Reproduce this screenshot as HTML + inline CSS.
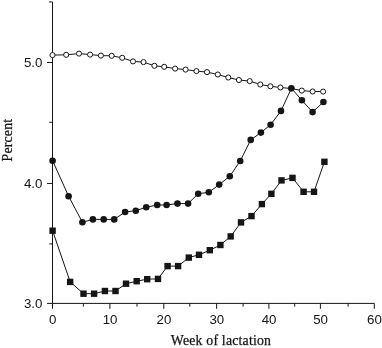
<!DOCTYPE html><html><head><meta charset="utf-8"><title>Chart</title><style>html,body{margin:0;padding:0;background:#fff}svg{display:block}text{fill:#151515}.s{font-family:"Liberation Sans",Arial,sans-serif;font-size:13.3px}.t{font-family:"Liberation Serif","Times New Roman",serif;font-size:13.8px;letter-spacing:0.2px;stroke:#151515;stroke-width:0.25px}</style></head><body>
<svg width="382" height="348" viewBox="0 0 382 348">
<rect width="382" height="348" fill="#fff"/>
<g stroke="#151515" stroke-width="1" fill="none">
<path d="M49.1,1.95 H52.5 V303.4 H374.3 "/>
<path d="M52.5,303.4 v5.4"/>
<path d="M109.9,303.4 v5.4"/>
<path d="M163.8,303.4 v5.4"/>
<path d="M216.6,303.4 v5.4"/>
<path d="M268.9,303.4 v5.4"/>
<path d="M320.4,303.4 v5.4"/>
<path d="M374.3,303.4 v5.4"/>
<path d="M83.4,303.4 v3.2"/>
<path d="M137.0,303.4 v3.2"/>
<path d="M189.8,303.4 v3.2"/>
<path d="M243.1,303.4 v3.2"/>
<path d="M294.7,303.4 v3.2"/>
<path d="M348.1,303.4 v3.2"/>
<path d="M52.5,62.5 h-5.5"/>
<path d="M52.5,183.45 h-5.5"/>
<path d="M52.5,303.4 h-5.5"/>
<path d="M52.5,122.3 h-3.2"/>
<path d="M52.5,243.9 h-3.2"/>
<polyline points="52.5,55.1 66.2,54.8 79.0,53.6 90.1,54.6 100.9,55.6 111.7,55.8 122.2,57.8 133.0,61.4 143.5,62.1 154.4,65.8 164.2,66.8 175.1,68.6 185.6,69.6 196.4,71.1 207.0,72.1 217.8,74.5 228.3,77.5 238.9,80.0 249.7,81.1 260.3,84.5 270.4,86.3 280.4,87.5 291.2,88.5 301.8,90.6 312.6,91.5 323.1,91.6"/>
<polyline points="52.6,160.7 68.6,196.2 82.4,222.3 92.9,219.4 103.7,219.4 114.2,219.4 125.1,212.0 135.8,210.7 146.2,207.2 157.2,205.0 166.6,205.0 177.5,203.6 188.1,203.6 198.2,193.7 208.8,192.3 219.2,184.6 229.8,176.2 240.2,161.0 250.7,139.9 260.9,132.6 270.6,124.7 281.0,110.9 291.4,88.3 301.9,100.3 312.6,112.1 323.4,102.0"/>
<polyline points="52.6,230.7 70.2,281.9 83.5,293.7 94.1,293.7 104.9,291.0 115.5,291.0 126.0,283.7 136.7,281.2 147.2,279.2 158.0,278.9 167.6,266.1 178.1,266.1 188.8,257.6 199.0,254.8 209.8,250.2 220.4,245.0 230.7,236.4 241.0,222.4 251.5,216.1 261.9,204.1 271.4,193.8 281.5,180.4 292.5,177.9 303.6,191.8 314.0,191.8 324.4,161.8"/>
</g>
<g fill="#fff" stroke="#151515" stroke-width="1">
<circle cx="52.5" cy="55.1" r="2.55"/>
<circle cx="66.2" cy="54.8" r="2.55"/>
<circle cx="79.0" cy="53.6" r="2.55"/>
<circle cx="90.1" cy="54.6" r="2.55"/>
<circle cx="100.9" cy="55.6" r="2.55"/>
<circle cx="111.7" cy="55.8" r="2.55"/>
<circle cx="122.2" cy="57.8" r="2.55"/>
<circle cx="133.0" cy="61.4" r="2.55"/>
<circle cx="143.5" cy="62.1" r="2.55"/>
<circle cx="154.4" cy="65.8" r="2.55"/>
<circle cx="164.2" cy="66.8" r="2.55"/>
<circle cx="175.1" cy="68.6" r="2.55"/>
<circle cx="185.6" cy="69.6" r="2.55"/>
<circle cx="196.4" cy="71.1" r="2.55"/>
<circle cx="207.0" cy="72.1" r="2.55"/>
<circle cx="217.8" cy="74.5" r="2.55"/>
<circle cx="228.3" cy="77.5" r="2.55"/>
<circle cx="238.9" cy="80.0" r="2.55"/>
<circle cx="249.7" cy="81.1" r="2.55"/>
<circle cx="260.3" cy="84.5" r="2.55"/>
<circle cx="270.4" cy="86.3" r="2.55"/>
<circle cx="280.4" cy="87.5" r="2.55"/>
<circle cx="291.2" cy="88.5" r="2.55"/>
<circle cx="301.8" cy="90.6" r="2.55"/>
<circle cx="312.6" cy="91.5" r="2.55"/>
<circle cx="323.1" cy="91.6" r="2.55"/>
</g>
<g fill="#151515">
<circle cx="52.6" cy="160.7" r="3.3"/>
<circle cx="68.6" cy="196.2" r="3.3"/>
<circle cx="82.4" cy="222.3" r="3.3"/>
<circle cx="92.9" cy="219.4" r="3.3"/>
<circle cx="103.7" cy="219.4" r="3.3"/>
<circle cx="114.2" cy="219.4" r="3.3"/>
<circle cx="125.1" cy="212.0" r="3.3"/>
<circle cx="135.8" cy="210.7" r="3.3"/>
<circle cx="146.2" cy="207.2" r="3.3"/>
<circle cx="157.2" cy="205.0" r="3.3"/>
<circle cx="166.6" cy="205.0" r="3.3"/>
<circle cx="177.5" cy="203.6" r="3.3"/>
<circle cx="188.1" cy="203.6" r="3.3"/>
<circle cx="198.2" cy="193.7" r="3.3"/>
<circle cx="208.8" cy="192.3" r="3.3"/>
<circle cx="219.2" cy="184.6" r="3.3"/>
<circle cx="229.8" cy="176.2" r="3.3"/>
<circle cx="240.2" cy="161.0" r="3.3"/>
<circle cx="250.7" cy="139.9" r="3.3"/>
<circle cx="260.9" cy="132.6" r="3.3"/>
<circle cx="270.6" cy="124.7" r="3.3"/>
<circle cx="281.0" cy="110.9" r="3.3"/>
<circle cx="291.4" cy="88.3" r="3.3"/>
<circle cx="301.9" cy="100.3" r="3.3"/>
<circle cx="312.6" cy="112.1" r="3.3"/>
<circle cx="323.4" cy="102.0" r="3.3"/>
<rect x="49.40" y="227.50" width="6.4" height="6.4"/>
<rect x="67.00" y="278.70" width="6.4" height="6.4"/>
<rect x="80.30" y="290.50" width="6.4" height="6.4"/>
<rect x="90.90" y="290.50" width="6.4" height="6.4"/>
<rect x="101.70" y="287.80" width="6.4" height="6.4"/>
<rect x="112.30" y="287.80" width="6.4" height="6.4"/>
<rect x="122.80" y="280.50" width="6.4" height="6.4"/>
<rect x="133.50" y="278.00" width="6.4" height="6.4"/>
<rect x="144.00" y="276.00" width="6.4" height="6.4"/>
<rect x="154.80" y="275.70" width="6.4" height="6.4"/>
<rect x="164.40" y="262.90" width="6.4" height="6.4"/>
<rect x="174.90" y="262.90" width="6.4" height="6.4"/>
<rect x="185.60" y="254.40" width="6.4" height="6.4"/>
<rect x="195.80" y="251.60" width="6.4" height="6.4"/>
<rect x="206.60" y="247.00" width="6.4" height="6.4"/>
<rect x="217.20" y="241.80" width="6.4" height="6.4"/>
<rect x="227.50" y="233.20" width="6.4" height="6.4"/>
<rect x="237.80" y="219.20" width="6.4" height="6.4"/>
<rect x="248.30" y="212.90" width="6.4" height="6.4"/>
<rect x="258.70" y="200.90" width="6.4" height="6.4"/>
<rect x="268.20" y="190.60" width="6.4" height="6.4"/>
<rect x="278.30" y="177.20" width="6.4" height="6.4"/>
<rect x="289.30" y="174.70" width="6.4" height="6.4"/>
<rect x="300.40" y="188.60" width="6.4" height="6.4"/>
<rect x="310.80" y="188.60" width="6.4" height="6.4"/>
<rect x="321.20" y="158.60" width="6.4" height="6.4"/>
</g>
<text class="s" x="52.7" y="323.6" text-anchor="middle">0</text>
<text class="s" x="110.1" y="323.6" text-anchor="middle">10</text>
<text class="s" x="164.0" y="323.6" text-anchor="middle">20</text>
<text class="s" x="216.8" y="323.6" text-anchor="middle">30</text>
<text class="s" x="269.1" y="323.6" text-anchor="middle">40</text>
<text class="s" x="320.6" y="323.6" text-anchor="middle">50</text>
<text class="s" x="374.5" y="323.6" text-anchor="middle">60</text>
<text class="s" x="42.4" y="67.2" text-anchor="end">5.0</text>
<text class="s" x="42.4" y="188.1" text-anchor="end">4.0</text>
<text class="s" x="42.4" y="308.1" text-anchor="end">3.0</text>
<text class="t" x="221" y="345.3" text-anchor="middle">Week of lactation</text>
<text class="t" transform="translate(12.0,140.1) rotate(-90)" text-anchor="middle">Percent</text>
</svg></body></html>
